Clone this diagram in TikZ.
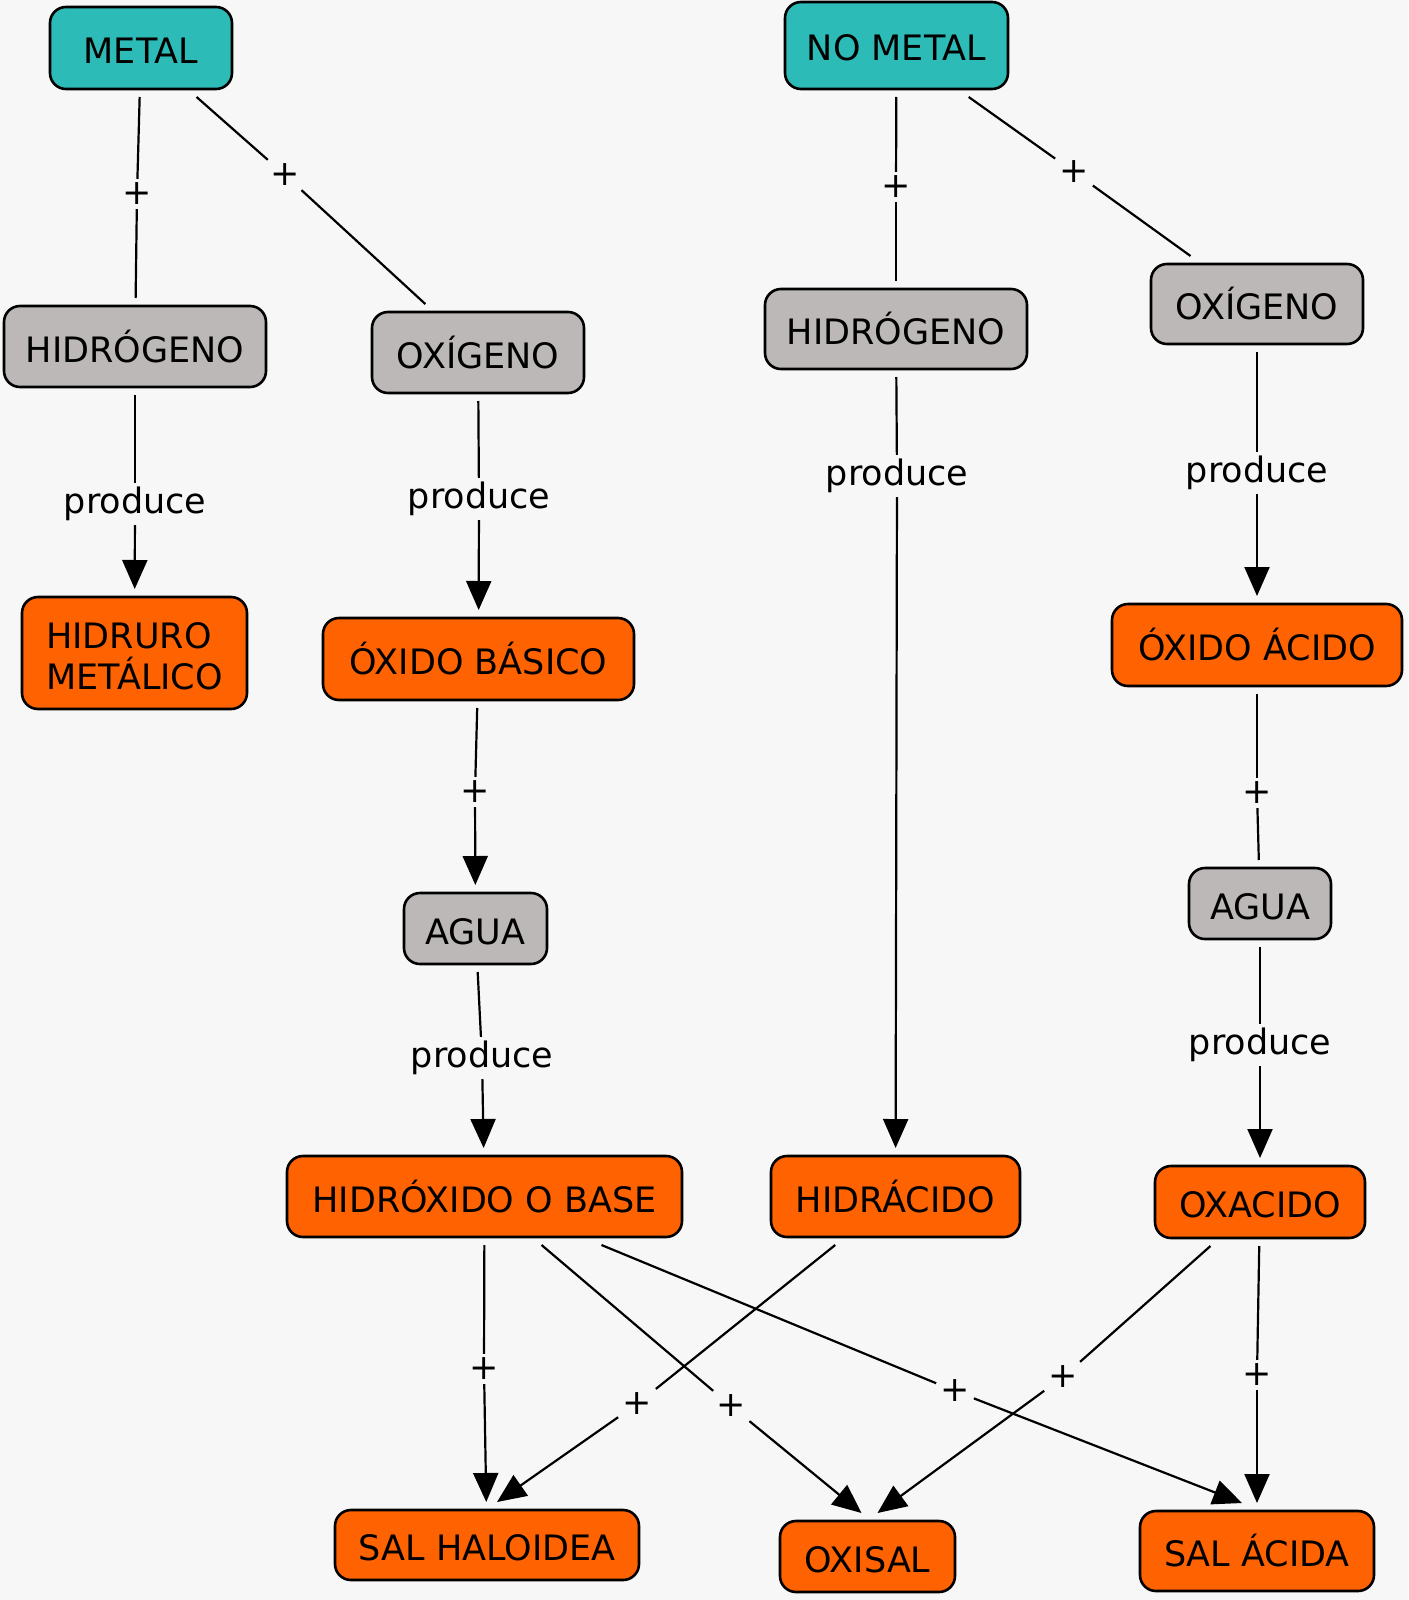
\documentclass[tikz,border=0pt]{standalone}
\usepackage{fontspec}
\setmainfont{DejaVu Sans}
\usetikzlibrary{arrows.meta}
\definecolor{bg}{HTML}{F7F7F7}
\definecolor{cteal}{HTML}{2DBBB8}
\definecolor{cgray}{HTML}{BCB8B7}
\definecolor{corange}{HTML}{FF6200}
\begin{document}
\begin{tikzpicture}[x=1pt,y=-1pt,
  box/.style={draw=black, line width=2.6pt, rounded corners=16pt, inner sep=0pt,
    outer sep=8pt, font=\fontsize{35}{41}\selectfont, text=black,
    text height=31pt, text depth=0pt},
  topc/.style={box, fill=cteal},
  midc/.style={box, fill=cgray},
  resc/.style={box, fill=corange},
  lbl/.style={fill=bg, inner sep=4pt, font=\fontsize{35}{41}\selectfont, text=black},
  con/.style={line width=2.2pt, draw=black},
  arr/.style={con, -{Triangle[length=29pt,width=25pt]}}
]
\fill[bg] (0,0) rectangle (1408,1600);
\useasboundingbox (0,0) rectangle (1408,1600);

% concept nodes
\node[topc, minimum width=182pt, minimum height=82pt] (metal) at (141,48) {METAL};
\node[topc, minimum width=223pt, minimum height=87pt] (nometal) at (896.5,45.5) {NO METAL};
\node[midc, minimum width=262pt, minimum height=81pt] (hidl) at (135,346.5) {HIDRÓGENO};
\node[midc, minimum width=212pt, minimum height=81pt] (oxl) at (478,352.5) {OXÍGENO};
\node[midc, minimum width=262pt, minimum height=80pt] (hidr) at (896,329) {HIDRÓGENO};
\node[midc, minimum width=212pt, minimum height=80pt] (oxr) at (1257,304) {OXÍGENO};
\node[resc, minimum width=225pt, minimum height=112pt, align=left, text height=72pt, text depth=0pt] (hidruro) at (134.5,653) {HIDRURO\\METÁLICO};
\node[resc, minimum width=311pt, minimum height=82pt] (oxb) at (478.5,659) {ÓXIDO BÁSICO};
\node[resc, minimum width=290pt, minimum height=82pt] (oxa) at (1257,645) {ÓXIDO ÁCIDO};
\node[midc, minimum width=143pt, minimum height=71pt] (agual) at (475.5,928.5) {AGUA};
\node[midc, minimum width=142pt, minimum height=71pt] (aguar) at (1260,903.5) {AGUA};
\node[resc, minimum width=395pt, minimum height=81pt] (hidrox) at (484.5,1196.5) {HIDRÓXIDO O BASE};
\node[resc, minimum width=249pt, minimum height=81pt] (hidrac) at (895.5,1196.5) {HIDRÁCIDO};
\node[resc, minimum width=210pt, minimum height=72pt] (oxac) at (1260,1202) {OXACIDO};
\node[resc, minimum width=304pt, minimum height=70pt] (salh) at (487,1545) {SAL HALOIDEA};
\node[resc, minimum width=175pt, minimum height=71pt] (oxisal) at (867.5,1556.5) {OXISAL};
\node[resc, minimum width=234pt, minimum height=80pt] (sala) at (1257,1551) {SAL ÁCIDA};

% link labels
\node[lbl] (p1) at (137,194) {+};
\node[lbl] (p2) at (285,175) {+};
\node[lbl] (q3) at (135,504) {produce};
\node[lbl] (q4) at (479,499) {produce};
\node[lbl] (p5) at (475,792) {+};
\node[lbl] (q6) at (482,1058) {produce};
\node[lbl] (p7) at (896,187) {+};
\node[lbl] (p8) at (1074,172) {+};
\node[lbl] (q9) at (897,476) {produce};
\node[lbl] (q10) at (1257,473) {produce};
\node[lbl] (p11) at (1257,793) {+};
\node[lbl] (q12) at (1260,1045) {produce};
\node[lbl] (p13) at (484,1369) {+};
\node[lbl] (p14) at (637,1404) {+};
\node[lbl] (p15) at (731,1406) {+};
\node[lbl] (p16) at (955,1391) {+};
\node[lbl] (p17) at (1063,1377) {+};
\node[lbl] (p18) at (1257,1375) {+};

% connectors
\draw[con] (metal) -- (p1);   \draw[con] (p1) -- (hidl);
\draw[con] (metal) -- (p2);   \draw[con] (p2) -- (oxl);
\draw[con] (hidl) -- (q3);    \draw[arr] (q3) -- (hidruro);
\draw[con] (oxl) -- (q4);     \draw[arr] (q4) -- (oxb);
\draw[con] (oxb) -- (p5);     \draw[arr] (p5) -- (agual);
\draw[con] (agual) -- (q6);   \draw[arr] (q6) -- (hidrox);
\draw[con] (nometal) -- (p7); \draw[con] (p7) -- (hidr);
\draw[con] (nometal) -- (p8); \draw[con] (p8) -- (oxr);
\draw[con] (hidr) -- (q9);    \draw[arr] (q9) -- (hidrac);
\draw[con] (oxr) -- (q10);    \draw[arr] (q10) -- (oxa);
\draw[con] (oxa) -- (p11);    \draw[con] (p11) -- (aguar);
\draw[con] (aguar) -- (q12);  \draw[arr] (q12) -- (oxac);
\draw[con] (hidrox) -- (p13); \draw[arr] (p13) -- (salh);
\draw[con] (hidrac) -- (p14); \draw[arr] (p14) -- ([xshift=10pt]salh.north);
\draw[con] (hidrox) -- (p15); \draw[arr] (p15) -- ([xshift=-6pt]oxisal.north);
\draw[con] (hidrox) -- (p16); \draw[arr] (p16) -- ([xshift=-15pt]sala.north);
\draw[con] (oxac) -- (p17);   \draw[arr] (p17) -- ([xshift=10pt]oxisal.north);
\draw[con] (oxac) -- (p18);   \draw[arr] (p18) -- (sala);
\end{tikzpicture}
\end{document}
